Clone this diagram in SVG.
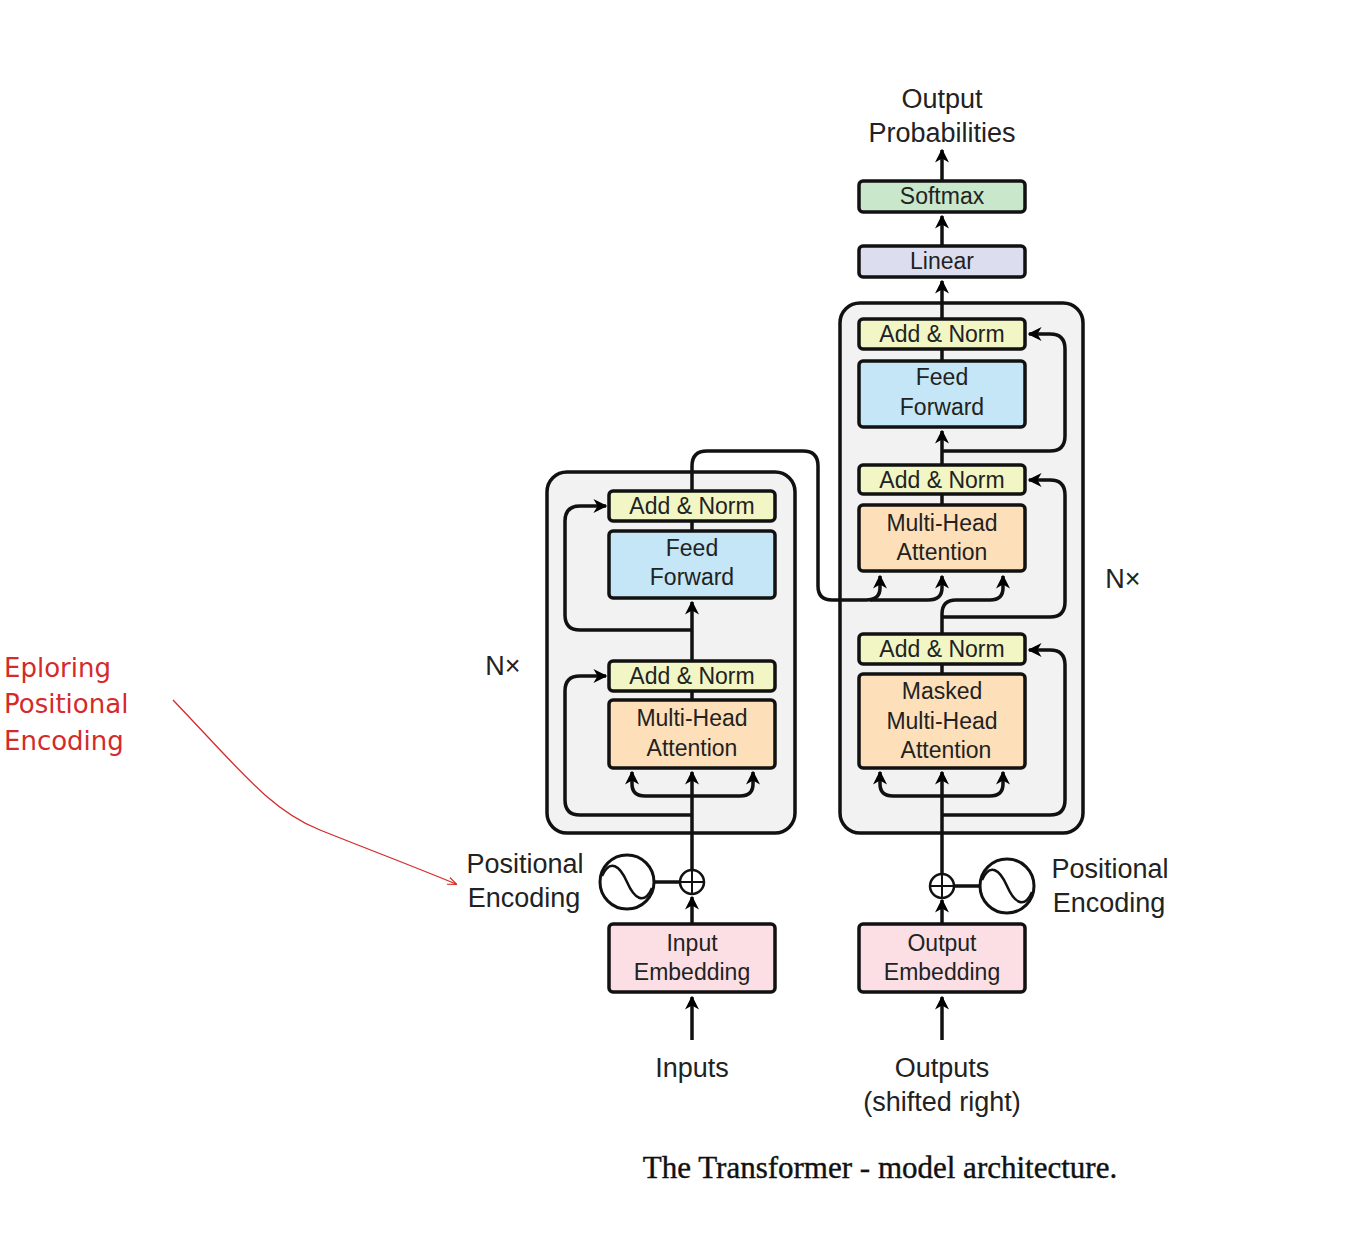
<svg xmlns="http://www.w3.org/2000/svg" width="1358" height="1240" viewBox="0 0 1358 1240">
<defs>
<marker id="ah" viewBox="0 0 10 10" refX="9" refY="5" markerWidth="4" markerHeight="4" orient="auto"><path d="M0,0 L10,5 L0,10 L3,5 z" fill="#000"/></marker>
<marker id="rh" viewBox="0 0 10 10" refX="9" refY="5" markerWidth="7" markerHeight="7" orient="auto"><path d="M0,1 L10,5 L0,9" fill="none" stroke="#d42a2a" stroke-width="1.2"/></marker>
</defs>
<style>
.blk{stroke:#111;stroke-width:3.5}
.an{fill:#f1f6c4}.ff{fill:#c4e6f6}.mh{fill:#fde0ba}.em{fill:#fbdfe5}.li{fill:#dcdef0}.sm{fill:#c9e7cb}
.grp{fill:#f2f2f2;stroke:#111;stroke-width:3.5}
text{font-family:"Liberation Sans",Arial,sans-serif;fill:#222;text-anchor:middle}
.t{font-size:23px}.l{font-size:27px}
.c{fill:none;stroke:#111;stroke-width:3.5}
.hw{font-family:"DejaVu Sans",sans-serif;fill:#d42a2a;text-anchor:start;font-size:26px}
</style>
<rect class="grp" x="547" y="472" width="248" height="361" rx="20"/>
<rect class="grp" x="840" y="303" width="243" height="530" rx="20"/>
<g id="connectors">
<path class="c" d="M692,1040 V997" marker-end="url(#ah)"/>
<path class="c" d="M942,1040 V997" marker-end="url(#ah)"/>
<path class="c" d="M692,924 V897" marker-end="url(#ah)"/>
<path class="c" d="M942,924 V900" marker-end="url(#ah)"/>
<path class="c" d="M692,870 V772" marker-end="url(#ah)"/>
<path class="c" d="M692,796 H645 Q632,796 632,784 V772" marker-end="url(#ah)"/>
<path class="c" d="M692,796 H740 Q753,796 753,784 V772" marker-end="url(#ah)"/>
<path class="c" d="M692,815 H580 Q565,815 565,800 V691 Q565,676 580,676 H606" marker-end="url(#ah)"/>
<path class="c" d="M692,700 V691"/>
<path class="c" d="M692,661 V602" marker-end="url(#ah)"/>
<path class="c" d="M692,630 H580 Q565,630 565,615 V521 Q565,506 580,506 H606" marker-end="url(#ah)"/>
<path class="c" d="M692,531 V521"/>
<path class="c" d="M692,491 V466 Q692,451 707,451 H803 Q818,451 818,466 V586 Q818,600 832,600 H866 Q880,600 880,588 V576" marker-end="url(#ah)"/>
<path class="c" d="M870,600 H928 Q942,600 942,588 V576" marker-end="url(#ah)"/>
<path class="c" d="M942,874 V772" marker-end="url(#ah)"/>
<path class="c" d="M942,796 H893 Q880,796 880,784 V772" marker-end="url(#ah)"/>
<path class="c" d="M942,796 H990 Q1003,796 1003,784 V772" marker-end="url(#ah)"/>
<path class="c" d="M942,815 H1050 Q1065,815 1065,800 V665 Q1065,650 1050,650 H1029" marker-end="url(#ah)"/>
<path class="c" d="M942,674 V664"/>
<path class="c" d="M942,634 V614 Q942,600 956,600 H990 Q1003,600 1003,588 V576" marker-end="url(#ah)"/>
<path class="c" d="M942,617 H1050 Q1065,617 1065,602 V495 Q1065,480 1050,480 H1029" marker-end="url(#ah)"/>
<path class="c" d="M942,505 V494"/>
<path class="c" d="M942,465 V431" marker-end="url(#ah)"/>
<path class="c" d="M942,451 H1050 Q1065,451 1065,436 V349 Q1065,334 1050,334 H1029" marker-end="url(#ah)"/>
<path class="c" d="M942,361 V349"/>
<path class="c" d="M942,319 V281" marker-end="url(#ah)"/>
<path class="c" d="M942,246 V216" marker-end="url(#ah)"/>
<path class="c" d="M942,181 V150" marker-end="url(#ah)"/>
<path class="c" d="M654,882 H680"/>
<path class="c" d="M954,886 H980"/>
<path d="M173,700 C240,770 270,810 320,830 C370,850 410,865 456,884" fill="none" stroke="#d42a2a" stroke-width="1.3" marker-end="url(#rh)"/>
</g>
<g id="enc-addnorm2"><rect class="blk an" x="609" y="491" width="166" height="30" rx="4"/><text class="t" x="692" y="514">Add &amp; Norm</text></g>
<g id="enc-ff"><rect class="blk ff" x="609" y="531" width="166" height="67" rx="4"/><text class="t" x="692" y="556">Feed</text><text class="t" x="692" y="585">Forward</text></g>
<g id="enc-addnorm1"><rect class="blk an" x="609" y="661" width="166" height="30" rx="4"/><text class="t" x="692" y="684">Add &amp; Norm</text></g>
<g id="enc-mha"><rect class="blk mh" x="609" y="700" width="166" height="68" rx="4"/><text class="t" x="692" y="726">Multi-Head</text><text class="t" x="692" y="756">Attention</text></g>
<g id="dec-addnorm3"><rect class="blk an" x="859" y="319" width="166" height="30" rx="4"/><text class="t" x="942" y="342">Add &amp; Norm</text></g>
<g id="dec-ff"><rect class="blk ff" x="859" y="361" width="166" height="66" rx="4"/><text class="t" x="942" y="385">Feed</text><text class="t" x="942" y="415">Forward</text></g>
<g id="dec-addnorm2"><rect class="blk an" x="859" y="465" width="166" height="29" rx="4"/><text class="t" x="942" y="488">Add &amp; Norm</text></g>
<g id="dec-mha"><rect class="blk mh" x="859" y="505" width="166" height="66" rx="4"/><text class="t" x="942" y="531">Multi-Head</text><text class="t" x="942" y="560">Attention</text></g>
<g id="dec-addnorm1"><rect class="blk an" x="859" y="634" width="166" height="30" rx="4"/><text class="t" x="942" y="657">Add &amp; Norm</text></g>
<g id="dec-mmha"><rect class="blk mh" x="859" y="674" width="166" height="94" rx="4"/><text class="t" x="942" y="699">Masked</text><text class="t" x="942" y="729">Multi-Head</text><text class="t" x="946" y="758">Attention</text></g>
<g id="linear"><rect class="blk li" x="859" y="246" width="166" height="31" rx="4"/><text class="t" x="942" y="269">Linear</text></g>
<g id="softmax"><rect class="blk sm" x="859" y="181" width="166" height="31" rx="4"/><text class="t" x="942" y="204">Softmax</text></g>
<g id="in-emb"><rect class="blk em" x="609" y="924" width="166" height="68" rx="4"/><text class="t" x="692" y="951">Input</text><text class="t" x="692" y="980">Embedding</text></g>
<g id="out-emb"><rect class="blk em" x="859" y="924" width="166" height="68" rx="4"/><text class="t" x="942" y="951">Output</text><text class="t" x="942" y="980">Embedding</text></g>
<g id="enc-pe">
<circle cx="627" cy="882" r="27" fill="#fff" stroke="#111" stroke-width="3"/>
<path d="M602,876 C610,858 620,866 627,882 C634,898 644,906 652,888" fill="none" stroke="#111" stroke-width="2.5"/>
<circle cx="692" cy="882" r="12" fill="#fff" stroke="#111" stroke-width="2.5"/><path d="M680,882 H704 M692,870 V894" stroke="#111" stroke-width="2"/>
</g>
<g id="dec-pe">
<circle cx="1007" cy="886" r="27" fill="#fff" stroke="#111" stroke-width="3"/>
<path d="M982,880 C990,862 1000,870 1007,886 C1014,902 1024,910 1032,892" fill="none" stroke="#111" stroke-width="2.5"/>
<circle cx="942" cy="886" r="12" fill="#fff" stroke="#111" stroke-width="2.5"/><path d="M930,886 H954 M942,874 V898" stroke="#111" stroke-width="2"/>
</g>
<text class="l" x="503" y="675">N×</text>
<text class="l" x="1123" y="588">N×</text>
<text class="l" x="525" y="873">Positional</text><text class="l" x="524" y="907">Encoding</text>
<text class="l" x="1110" y="878">Positional</text><text class="l" x="1109" y="912">Encoding</text>
<text class="l" x="692" y="1077">Inputs</text>
<text class="l" x="942" y="1077">Outputs</text><text class="l" x="942" y="1111">(shifted right)</text>
<text class="l" x="942" y="108">Output</text><text class="l" x="942" y="142">Probabilities</text>
<text x="880" y="1178" style="font-family:'Liberation Serif','Times New Roman',serif;font-size:31px;fill:#111;stroke:#111;stroke-width:0.4">The Transformer - model architecture.</text>
<text class="hw" x="4" y="677">Eploring</text>
<text class="hw" x="4" y="713">Positional</text>
<text class="hw" x="4" y="750">Encoding</text>
</svg>
